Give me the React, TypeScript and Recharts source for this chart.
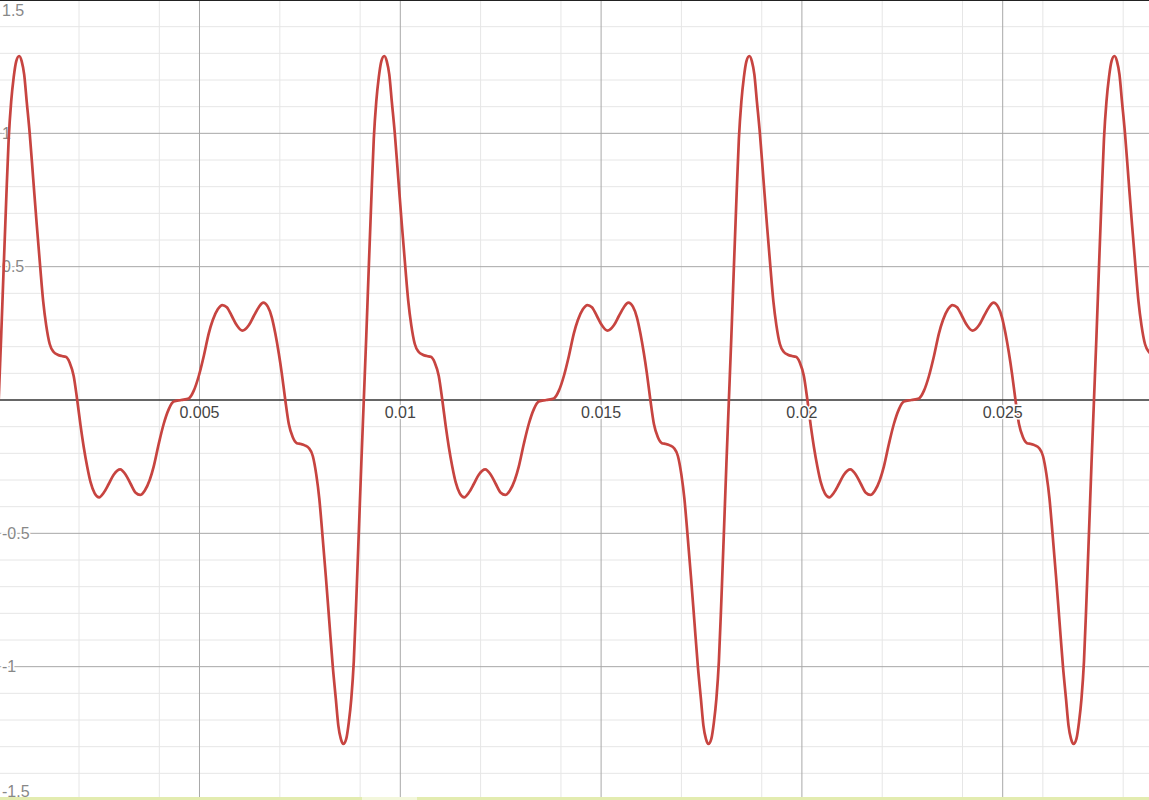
import React from 'react';
import {
  LineChart,
  Line,
  XAxis,
  YAxis,
  CartesianGrid,
  ReferenceLine,
  ReferenceDot,
} from 'recharts';

// one cycle of the wave (seconds from the rising zero crossing)
const cycleOffsets = [
  0, 0.000062, 0.000125, 0.000187, 0.000249, 0.000311, 0.000373, 0.000436, 0.00051, 0.000573,
  0.000635, 0.000697, 0.000772, 0.000859, 0.000946, 0.001033, 0.001108, 0.001183, 0.00127, 0.001369,
  0.001469, 0.001569, 0.001668, 0.001768, 0.001867, 0.001955, 0.002042, 0.002116, 0.002204, 0.002291,
  0.00239, 0.002502, 0.002614, 0.002739, 0.002863, 0.003025, 0.003162, 0.003287, 0.003411, 0.003523,
  0.003635, 0.00376, 0.003859, 0.003984, 0.004108, 0.004233, 0.004357, 0.004545, 0.004733, 0.004858,
  0.004982, 0.005107, 0.005231, 0.005331, 0.005455, 0.005568, 0.00568, 0.005804, 0.005929, 0.006066,
  0.006227, 0.006352, 0.006476, 0.006589, 0.006701, 0.0068, 0.006887, 0.006974, 0.007049, 0.007136,
  0.007224, 0.007323, 0.007423, 0.007522, 0.007622, 0.007721, 0.007821, 0.007908, 0.007983, 0.008058,
  0.008145, 0.008232, 0.008319, 0.008394, 0.008456, 0.008518, 0.008581, 0.008655, 0.008717, 0.00878,
  0.008842, 0.008904, 0.008966, 0.009029,
];

const cycleValues = [
  0, 0.24, 0.5, 0.75, 0.98, 1.12, 1.21, 1.27, 1.29, 1.27,
  1.22, 1.12, 1.0, 0.83, 0.66, 0.5, 0.37, 0.28, 0.21, 0.18,
  0.17, 0.165, 0.162, 0.14, 0.09, 0, -0.1, -0.175, -0.25, -0.31,
  -0.35, -0.365, -0.348, -0.315, -0.28, -0.26, -0.28, -0.315, -0.348, -0.356,
  -0.34, -0.3, -0.25, -0.165, -0.09, -0.035, -0.006, 0, 0.006, 0.035,
  0.09, 0.165, 0.25, 0.3, 0.34, 0.356, 0.348, 0.315, 0.28, 0.26,
  0.28, 0.315, 0.348, 0.365, 0.35, 0.31, 0.25, 0.175, 0.1, 0,
  -0.09, -0.14, -0.162, -0.165, -0.17, -0.18, -0.21, -0.28, -0.37, -0.5,
  -0.66, -0.83, -1.0, -1.12, -1.22, -1.27, -1.29, -1.27, -1.21, -1.12,
  -0.98, -0.75, -0.5, -0.24,
];

// rising zero crossings of each visible cycle
const cycleStarts = [0, 0.009091, 0.018182, 0.027273];

const xMajorTicks = [0.005, 0.01, 0.015, 0.02, 0.025];
const xTickLabels = ['0.005', '0.01', '0.015', '0.02', '0.025'];
const xMinorTicks = [
  0.001, 0.002, 0.003, 0.004, 0.006, 0.007, 0.008, 0.009, 0.011, 0.012, 0.013, 0.014,
  0.016, 0.017, 0.018, 0.019, 0.021, 0.022, 0.023, 0.024, 0.026, 0.027, 0.028,
];
const yMajorTicks = [1.5, 1, 0.5, -0.5, -1, -1.5];
const yTickLabels = ['1.5', '1', '0.5', '-0.5', '-1', '-1.5'];
const yMinorTicks = [
  1.4, 1.3, 1.2, 1.1, 0.9, 0.8, 0.7, 0.6, 0.4, 0.3, 0.2, 0.1,
  -0.1, -0.2, -0.3, -0.4, -0.6, -0.7, -0.8, -0.9, -1.1, -1.2, -1.3, -1.4,
];

const X_MIN = 0.0000324;
const X_MAX = 0.028643;

const data: { t: number; v: number }[] = [];
cycleStarts.forEach((start) => {
  cycleOffsets.forEach((off, i) => {
    const t = start + off;
    if (t <= 0.0288) data.push({ t, v: cycleValues[i] });
  });
});

const FONT = '"Liberation Sans", Arial, Helvetica, sans-serif';

const XLabel = ({ viewBox, value }: any) => (
  <text
    x={viewBox.x + viewBox.width / 2}
    y={viewBox.y + 18}
    textAnchor="middle"
    fontFamily={FONT}
    fontSize={16}
    fill="#444"
    stroke="#fff"
    strokeWidth={3}
    paintOrder="stroke"
  >
    {value}
  </text>
);

const YLabel = ({ viewBox, value }: any) => {
  const y = Math.min(Math.max(viewBox.y, 10), 791);
  return (
    <text
      x={viewBox.x + 2}
      y={y}
      dy="0.35em"
      textAnchor="start"
      fontFamily={FONT}
      fontSize={16}
      fill="#888"
      stroke="#fff"
      strokeWidth={3}
      paintOrder="stroke"
    >
      {value}
    </text>
  );
};

export default function App() {
  return (
    <div style={{ position: 'absolute', left: 0, top: 0, width: 1149, height: 800, background: '#fff' }}>
      <LineChart width={1149} height={800} data={data} margin={{ top: 0, right: 0, bottom: 0, left: 0 }}>
        <XAxis dataKey="t" type="number" domain={[X_MIN, X_MAX]} allowDataOverflow hide />
        <YAxis type="number" domain={[-1.5, 1.5]} allowDataOverflow hide />
        <CartesianGrid verticalValues={xMinorTicks} horizontalValues={yMinorTicks} stroke="#e6e6e6" />
        <CartesianGrid verticalValues={xMajorTicks} horizontalValues={yMajorTicks} stroke="#a8a8a8" />
        <ReferenceLine y={0} stroke="#333" strokeWidth={1.6} />
        {xMajorTicks.map((v, i) => (
          <ReferenceDot
            key={'xl' + v}
            x={v}
            y={0}
            r={0}
            fill="none"
            stroke="none"
            label={<XLabel value={xTickLabels[i]} />}
          />
        ))}
        {yMajorTicks.map((v, i) => (
          <ReferenceLine
            key={'yl' + v}
            y={v}
            stroke="none"
            label={<YLabel value={yTickLabels[i]} />}
          />
        ))}
        <Line
          dataKey="v"
          type="monotone"
          stroke="#c74440"
          strokeWidth={2.7}
          dot={false}
          isAnimationActive={false}
        />
      </LineChart>
      <div style={{ position: 'absolute', left: 0, top: 0, width: 1149, height: 1, background: '#222' }} />
      <div style={{ position: 'absolute', left: 0, top: 797, width: 1149, height: 3, background: '#e3ecb0' }} />
      <div style={{ position: 'absolute', left: 362, top: 797, width: 55, height: 3, background: '#f3f7dc' }} />
    </div>
  );
}
